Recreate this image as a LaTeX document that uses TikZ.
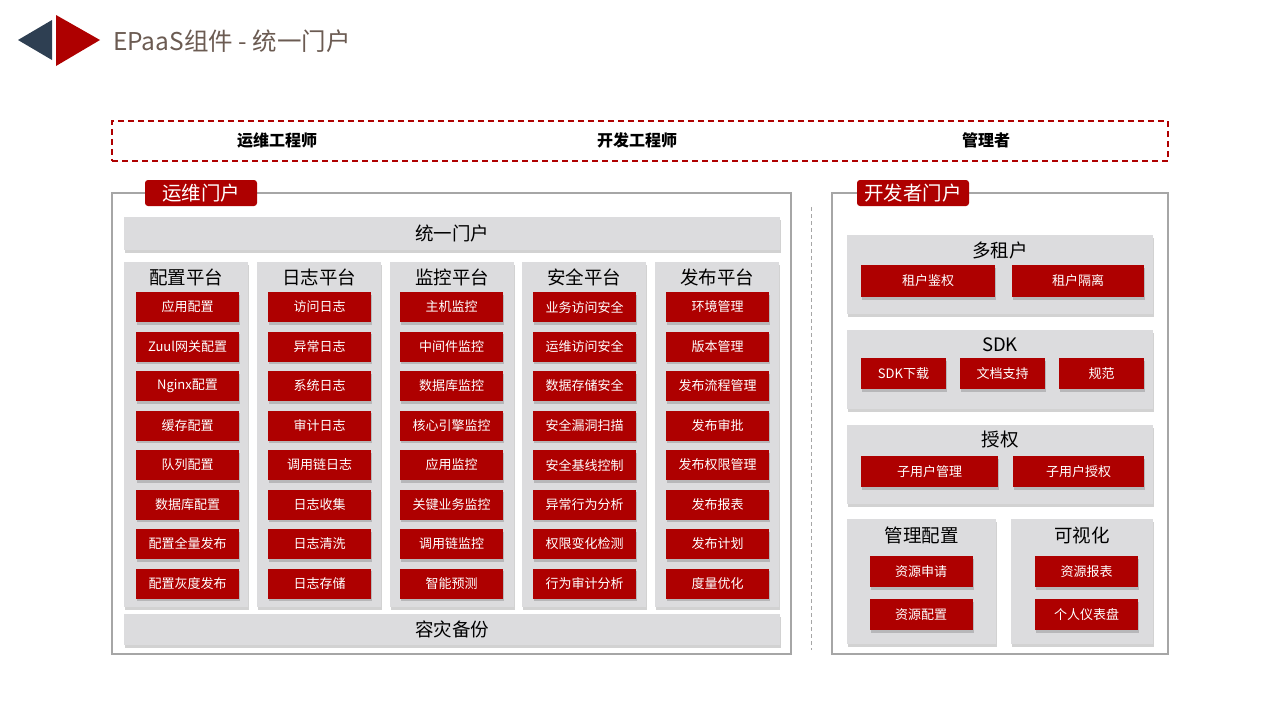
\documentclass[tikz,border=0pt]{standalone}
\usepackage{fontspec}
\newfontfamily\cjk{Noto Sans CJK SC}
\usepackage{xcolor}
\usepackage{tikz}
\usetikzlibrary{positioning, shadows}
\definecolor{rood}{HTML}{AE0000}
\definecolor{grijs}{HTML}{DCDCDE}
\definecolor{rand}{HTML}{A6A6A6}
\definecolor{donker}{HTML}{2E3F52}
\definecolor{titel}{HTML}{6B5B52}
\tikzset{
  schaduw/.style={drop shadow={shadow xshift=1pt, shadow yshift=-2.5pt, opacity=0.25, fill=black!70}},
  paneel/.style={rectangle, draw=rand, line width=1.5pt, fill=white},
  tab/.style={rectangle, rounded corners=3pt, fill=rood, text=white, minimum width=112pt, minimum height=26pt, inner sep=0pt, font=\cjk\fontsize{19.5}{20}\selectfont},
  balk/.style={rectangle, fill=grijs, schaduw, minimum width=656pt, minimum height=33pt, inner sep=0pt, font=\cjk\fontsize{18.5}{19}\selectfont},
  kolom/.style={rectangle, fill=grijs, schaduw, inner sep=0pt},
  kop/.style={inner sep=0pt, font=\cjk\fontsize{18.5}{19}\selectfont},
  knop/.style={rectangle, fill=rood, text=white, schaduw, minimum width=103pt, minimum height=30pt, inner sep=0pt, font=\cjk\fontsize{13}{14}\selectfont},
  rol/.style={inner sep=0pt, font=\cjk\fontsize{16}{17}\selectfont\bfseries},
}

\begin{document}
\begin{tikzpicture}[x=1pt, y=-1pt, node distance=9.1pt]
  \useasboundingbox (0,0) rectangle (1280,720);
  % Titel
  \fill[donker] (18,40) -- (52,20) -- (52,60) -- cycle;
  \fill[rood] (56,15) -- (100,40) -- (56,66) -- cycle;
  \node[anchor=west, inner sep=0pt, text=titel, font=\cjk\fontsize{24.5}{25}\selectfont] (titel) at (113,41) {EPaaS组件 - 统一门户};
  % Rollen
  \node[rectangle, draw=rood, line width=1.8pt, dash pattern=on 6pt off 4pt, minimum width=1056pt, minimum height=40pt] (rollen) at (640,141) {};
  \node[rol] (r1) at (277,140) {运维工程师};
  \node[rol] (r2) at (637,140) {开发工程师};
  \node[rol] (r3) at (986,140) {管理者};
  % Panelen
  \node[paneel, minimum width=679pt, minimum height=461pt] (ops) at (451.5,423.5) {};
  \node[paneel, minimum width=336pt, minimum height=461pt] (dev) at (1000,423.5) {};
  \node[tab] (opstab) at (201,193) {运维门户};
  \node[tab] (devtab) at (913,193) {开发者门户};
  \draw[rand, line width=1pt, dash pattern=on 4pt off 3pt] (811,207) -- (811,650);
  % 运维门户
  \node[balk] (top) at (452,233.5) {统一门户};
  \node[balk, minimum height=31pt] (bodem) at (452,629.5) {容灾备份};
  \node[kolom, minimum width=124pt, minimum height=345pt] (k1) at (186,434.5) {};
  \node[kolom, minimum width=124pt, minimum height=345pt] (k2) at (319,434.5) {};
  \node[kolom, minimum width=124pt, minimum height=345pt] (k3) at (452,434.5) {};
  \node[kolom, minimum width=124pt, minimum height=345pt] (k4) at (584,434.5) {};
  \node[kolom, minimum width=124pt, minimum height=345pt] (k5) at (717,434.5) {};
  \node[kop] (h1) at (186,277) {配置平台};
  \node[kop] (h2) at (319,277) {日志平台};
  \node[kop] (h3) at (452,277) {监控平台};
  \node[kop] (h4) at (584,277) {安全平台};
  \node[kop] (h5) at (717,277) {发布平台};
  % 配置平台
  \node[knop] (a1) at (187.5,307) {应用配置};
  \node[knop, below=of a1] (a2) {Zuul网关配置};
  \node[knop, below=of a2] (a3) {Nginx配置};
  \node[knop, below=of a3] (a4) {缓存配置};
  \node[knop, below=of a4] (a5) {队列配置};
  \node[knop, below=of a5] (a6) {数据库配置};
  \node[knop, below=of a6] (a7) {配置全量发布};
  \node[knop, below=of a7] (a8) {配置灰度发布};
  % 日志平台
  \node[knop] (b1) at (319.5,307) {访问日志};
  \node[knop, below=of b1] (b2) {异常日志};
  \node[knop, below=of b2] (b3) {系统日志};
  \node[knop, below=of b3] (b4) {审计日志};
  \node[knop, below=of b4] (b5) {调用链日志};
  \node[knop, below=of b5] (b6) {日志收集};
  \node[knop, below=of b6] (b7) {日志清洗};
  \node[knop, below=of b7] (b8) {日志存储};
  % 监控平台
  \node[knop] (c1) at (451.5,307) {主机监控};
  \node[knop, below=of c1] (c2) {中间件监控};
  \node[knop, below=of c2] (c3) {数据库监控};
  \node[knop, below=of c3] (c4) {核心引擎监控};
  \node[knop, below=of c4] (c5) {应用监控};
  \node[knop, below=of c5] (c6) {关键业务监控};
  \node[knop, below=of c6] (c7) {调用链监控};
  \node[knop, below=of c7] (c8) {智能预测};
  % 安全平台
  \node[knop] (d1) at (584.5,307) {业务访问安全};
  \node[knop, below=of d1] (d2) {运维访问安全};
  \node[knop, below=of d2] (d3) {数据存储安全};
  \node[knop, below=of d3] (d4) {安全漏洞扫描};
  \node[knop, below=of d4] (d5) {安全基线控制};
  \node[knop, below=of d5] (d6) {异常行为分析};
  \node[knop, below=of d6] (d7) {权限变化检测};
  \node[knop, below=of d7] (d8) {行为审计分析};
  % 发布平台
  \node[knop] (e1) at (717.5,307) {环境管理};
  \node[knop, below=of e1] (e2) {版本管理};
  \node[knop, below=of e2] (e3) {发布流程管理};
  \node[knop, below=of e3] (e4) {发布审批};
  \node[knop, below=of e4] (e5) {发布权限管理};
  \node[knop, below=of e5] (e6) {发布报表};
  \node[knop, below=of e6] (e7) {发布计划};
  \node[knop, below=of e7] (e8) {度量优化};
  % 开发者门户
  \node[kolom, minimum width=306pt, minimum height=79pt] (m1) at (1000,274.5) {};
  \node[kop] (mh1) at (1000,250) {多租户};
  \node[knop, minimum width=134pt, minimum height=32pt] (m11) at (928,281) {租户鉴权};
  \node[knop, minimum width=132pt, minimum height=32pt] (m12) at (1078,281) {租户隔离};
  \node[kolom, minimum width=306pt, minimum height=79pt] (m2) at (1000,369.5) {};
  \node[kop] (mh2) at (1000,345) {SDK};
  \node[knop, minimum width=85pt, minimum height=31pt] (m21) at (903.5,373.5) {SDK下载};
  \node[knop, minimum width=85pt, minimum height=31pt] (m22) at (1002.5,373.5) {文档支持};
  \node[knop, minimum width=85pt, minimum height=31pt] (m23) at (1101.5,373.5) {规范};
  \node[kolom, minimum width=306pt, minimum height=79pt] (m3) at (1000,464.5) {};
  \node[kop] (mh3) at (1000,440) {授权};
  \node[knop, minimum width=137pt, minimum height=31pt] (m31) at (929.5,471.5) {子用户管理};
  \node[knop, minimum width=131pt, minimum height=31pt] (m32) at (1078.5,471.5) {子用户授权};
  \node[kolom, minimum width=149pt, minimum height=125pt] (m4) at (921.5,581.5) {};
  \node[kop] (mh4) at (921.5,535) {管理配置};
  \node[knop, minimum height=31pt] (m41) at (921,571.5) {资源申请};
  \node[knop, minimum height=31pt] (m42) at (921,614.5) {资源配置};
  \node[kolom, minimum width=142pt, minimum height=125pt] (m5) at (1082,581.5) {};
  \node[kop] (mh5) at (1082,535) {可视化};
  \node[knop, minimum height=31pt] (m51) at (1086.5,571.5) {资源报表};
  \node[knop, minimum height=31pt] (m52) at (1086.5,614.5) {个人仪表盘};
\end{tikzpicture}
\end{document}
